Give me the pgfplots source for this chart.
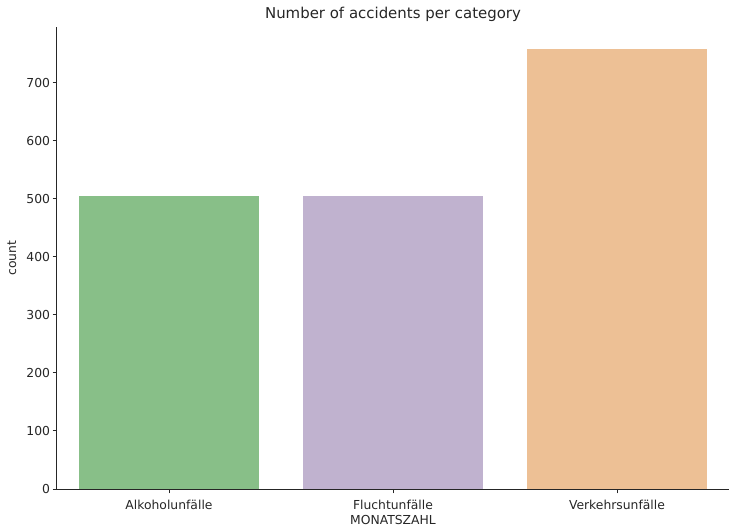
\documentclass[border=0pt]{standalone}
\usepackage{pgfplots}
\pgfplotsset{compat=1.18}
\usepackage{fontspec}
\setmainfont{DejaVu Sans}
\definecolor{cA}{HTML}{88BF88}
\definecolor{cB}{HTML}{C0B2CF}
\definecolor{cC}{HTML}{EDC095}
\definecolor{spine}{HTML}{262626}
\begin{document}
\begin{tikzpicture}
\useasboundingbox (-57bp,-43bp) rectangle (678bp,489bp);
\begin{axis}[
  at={(0,0)}, anchor=south west,
  scale only axis, width=672bp, height=462bp,
  xmin=-0.5, xmax=2.5, ymin=0, ymax=796,
  axis x line*=bottom, axis y line*=left,
  axis line style={spine, line width=1bp, -},
  xtick={0,1,2}, xticklabels={Alkoholunfälle,Fluchtunfälle,Verkehrsunfälle},
  ytick={0,100,...,700},
  tick style={spine, line width=1bp},
  tick align=outside, major tick length=4.4bp,
  ticklabel style={font=\fontsize{12.4}{14}\selectfont, text=spine},
  xticklabel style={yshift=-3bp},
  yticklabel style={xshift=1bp},
  /pgf/number format/assume math mode=true,
  xlabel={MONATSZAHL}, ylabel={count},
  label style={font=\fontsize{12.4}{14}\selectfont, text=spine},
  xlabel style={at={(axis description cs:0.5,0)}, anchor=center, yshift=-31bp},
  ylabel style={at={(axis description cs:0,0.5)}, anchor=center, yshift=45bp},
  title={Number of accidents per category},
  title style={font=\fontsize{15}{17}\selectfont, text=spine, at={(axis description cs:0.5,1)}, anchor=center, yshift=7bp},
  ybar, bar width=0.8, bar shift=0pt,
  every axis plot/.append style={draw=none},
]
\addplot[fill=cA] coordinates {(0,504)};
\addplot[fill=cB] coordinates {(1,504)};
\addplot[fill=cC] coordinates {(2,758)};
\end{axis}
\end{tikzpicture}
\end{document}
